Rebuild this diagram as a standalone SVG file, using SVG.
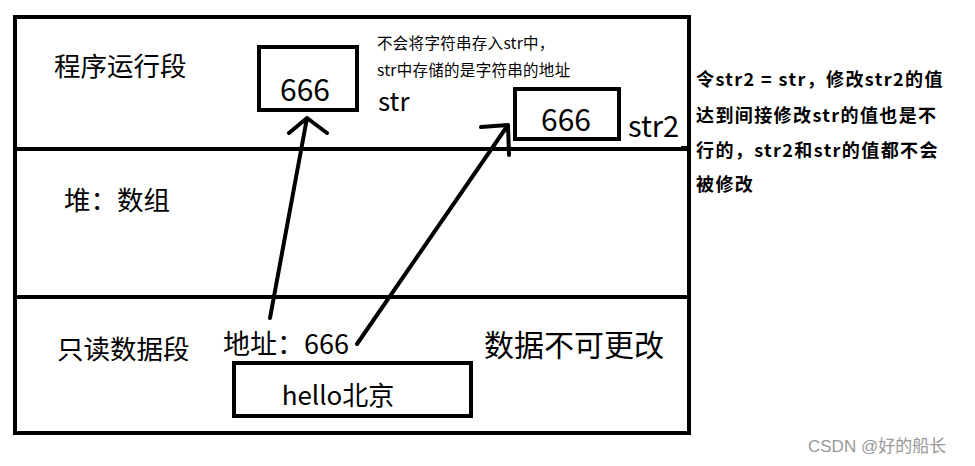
<svg xmlns="http://www.w3.org/2000/svg" width="975" height="466" viewBox="0 0 975 466">
<style>
.box{fill:none;stroke:#000;stroke-width:4}
.ln{fill:none;stroke:#000;stroke-width:4;stroke-linecap:round;stroke-linejoin:round}
text{font-family:"Noto Sans CJK SC","Noto Sans",sans-serif;fill:#000}
.lab{font-size:26.5px}
.note{font-size:15.5px;letter-spacing:0.3px}
.side{font-size:18px;letter-spacing:1.4px}
</style>
<rect width="975" height="466" fill="#fff"/>
<g id="memory">
<rect class="box" x="15" y="17" width="674" height="416"/>
<line class="box" x1="15" y1="149" x2="689" y2="149"/>
<line class="box" x1="15" y1="297" x2="689" y2="297"/>
<line class="box" x1="681" y1="148" x2="689" y2="148"/>
</g>
<g id="seg-run"><text class="lab" x="54" y="76">程序运行段</text></g>
<g id="seg-heap"><text class="lab" x="64" y="210">堆：数组</text></g>
<g id="seg-ro"><text class="lab" x="57" y="359">只读数据段</text></g>
<g id="str">
<rect class="box" x="259" y="47" width="98" height="63"/>
<text x="305" y="101" font-size="30" text-anchor="middle">666</text>
<text x="378" y="111" font-size="26">str</text>
</g>
<g id="note">
<text class="note" x="377" y="49">不会将字符串存入str中，</text>
<text class="note" x="377" y="76">str中存储的是字符串的地址</text>
</g>
<g id="str2">
<rect class="box" x="515" y="89" width="104" height="50"/>
<text x="566" y="131" font-size="30" text-anchor="middle">666</text>
<text x="628" y="137" font-size="29">str2</text>
</g>
<g id="addr">
<text x="223" y="354" font-size="27">地址：666</text>
</g>
<g id="ro-note"><text x="484" y="356" font-size="30">数据不可更改</text></g>
<g id="hello">
<rect class="box" x="234" y="363" width="237" height="53"/>
<text x="338" y="405" font-size="26" text-anchor="middle">hello北京</text>
</g>
<g id="side-note" font-weight="bold">
<text class="side" x="696" y="86">令str2 = str，修改str2的值</text>
<text class="side" x="696" y="122">达到间接修改str的值也是不</text>
<text class="side" x="696" y="157">行的，str2和str的值都不会</text>
<text class="side" x="696" y="191">被修改</text>
</g>
<g id="connectors">
<path class="ln" d="M270 318 L307 118 M289 133 L307 118 L327 133"/>
<path class="ln" d="M357 344 L508 125 M481 127 L508 125 L509 155"/>
</g>
<g id="watermark"><text x="808" y="452" font-size="17" style="font-family:'Liberation Sans','Noto Sans CJK SC',sans-serif;fill:#999">CSDN @好的船长</text></g>
</svg>
